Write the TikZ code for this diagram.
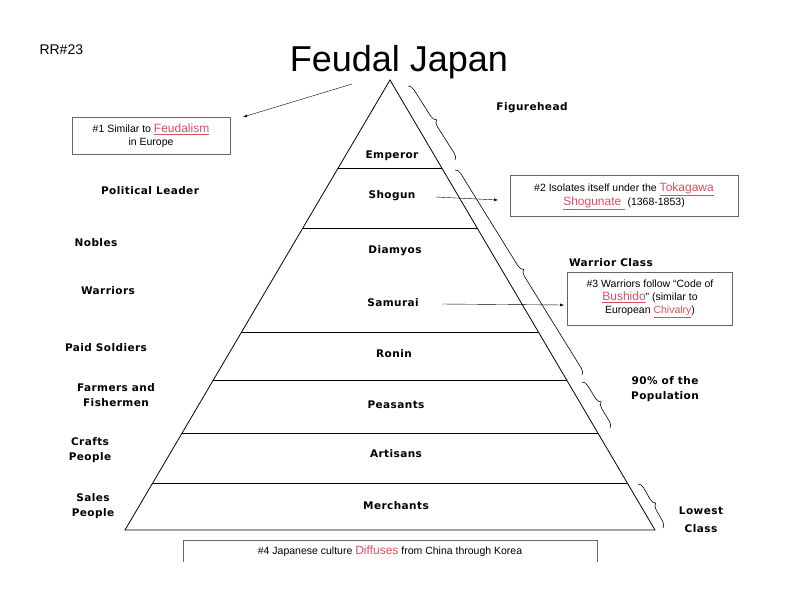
\documentclass[tikz,border=0pt]{standalone}
\usepackage{fontspec}
\setmainfont{Liberation Sans}
\newfontfamily\labfont[LetterSpace=4]{DejaVu Sans Bold}
\usetikzlibrary{decorations.pathreplacing,arrows.meta}
\definecolor{lnk}{HTML}{D9505F}
\newcommand{\lk}[1]{\textcolor{lnk}{\underline{#1}}}
\begin{document}
\begin{tikzpicture}[x=1pt,y=-1pt,
  lab/.style={font=\labfont\fontsize{10.5}{15}\selectfont, align=center, inner sep=1pt},
  box/.style={draw=black!60, font=\fontsize{10.5}{13}\selectfont, align=center, inner sep=2pt},
  br/.style={decorate, decoration={brace, amplitude=6pt}, line width=0.6pt},
  ar/.style={-{Latex[length=4pt,width=3pt]}, line width=0.4pt}]
\useasboundingbox (0,0) rectangle (794,595);
\coordinate (A) at (390,80);
\coordinate (L) at (125,530);
\coordinate (R) at (655,530);
\draw[line width=0.8pt] (L) -- (A) -- (R) -- cycle;
\foreach \y in {168,228,332,380,433,483}{
  \draw[line width=0.6pt] ({390-(\y-80)*0.5889},\y) -- ({390+(\y-80)*0.5889},\y);}
\node (t) at (399,62) {\fontsize{36}{40}\selectfont Feudal Japan};
\node[anchor=west] (rr) at (36,50) {\fontsize{14}{16}\selectfont RR\#23};
% center labels
\node[lab] (emp) at (392,156) {Emperor};
\node[lab] (sho) at (392,196) {Shogun};
\node[lab] (dia) at (395,251) {Diamyos};
\node[lab] (sam) at (393,303) {Samurai};
\node[lab] (ron) at (394,354) {Ronin};
\node[lab] (pea) at (396,405) {Peasants};
\node[lab] (art) at (396,454) {Artisans};
\node[lab] (mer) at (396,506) {Merchants};
% left labels
\node[lab] at (150,191) {Political Leader};
\node[lab] at (96,243) {Nobles};
\node[lab] at (108,291) {Warriors};
\node[lab] at (106,348) {Paid Soldiers};
\node[lab] at (116,395) {Farmers and\\Fishermen};
\node[lab] at (90,450) {Crafts\\People};
\node[lab] at (93,506) {Sales\\People};
% right labels
\node[lab] at (532,108) {Figurehead};
\node[lab] at (611,263) {Warrior Class};
\node[lab] at (665,389) {90\% of the\\Population};
\node[lab] at (701,520) {Lowest\\[3pt]Class};
% braces
\draw[br] (408,86) -- (455,160);
\draw[br] (455,170) -- (582,375);
\draw[br] (582,382) -- (610,428);
\draw[br] (638,484) -- (663,528);
% boxes
\node[box, minimum width=158pt, minimum height=37pt] (b1) at (151,136) {\#1 Similar to \lk{\fontsize{12}{13}\selectfont Feudalism}\\in Europe};
\node[box, minimum width=228pt, minimum height=41pt] (b2) at (624,196) {\#2 Isolates itself under the \lk{\fontsize{12}{13}\selectfont Tokagawa}\\\lk{\fontsize{12}{13}\selectfont Shogunate~} (1368-1853)};
\node[box, minimum width=165pt, minimum height=53pt] (b3) at (650,299) {\#3 Warriors follow ``Code of\\\lk{\fontsize{12}{13}\selectfont Bushido}'' (similar to\\European \lk{Chivalry})};
\draw[black!60] (183,562) -- (183,540) coordinate (b4a) -- (597,540) -- (597,562);
\node[font=\fontsize{10.5}{12}\selectfont] (b4) at (390,551) {\#4 Japanese culture \textcolor{lnk}{\fontsize{12}{13}\selectfont Diffuses} from China through Korea};
% arrows
\coordinate (a1) at (352,84);
\draw[ar] (a1) -- (243,117);
\coordinate (s1) at (436,197);
\coordinate (s2) at (498,200);
\draw[ar] (s1) -- (s2);
\coordinate (m1) at (442,304);
\coordinate (m2) at (564,305);
\draw[ar] (m1) -- (m2);
\end{tikzpicture}
\end{document}
